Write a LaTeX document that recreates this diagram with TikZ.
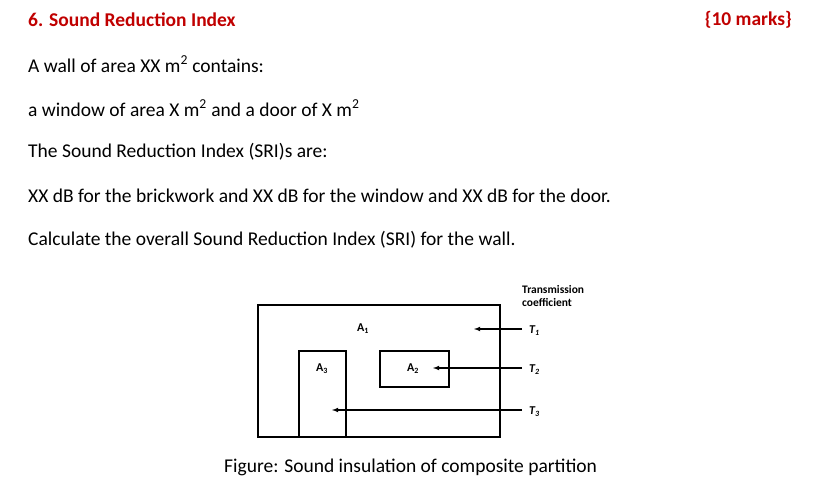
\documentclass[tikz,border=0pt]{standalone}
\usepackage{fontspec}
\setmainfont{Carlito}
\begin{document}
\begin{tikzpicture}[x=1pt,y=-1pt,
  txt/.style={anchor=west,inner sep=0pt,font=\fontsize{19.5}{21}\selectfont},
  red/.style={text={rgb,255:red,192;green,0;blue,0},font=\fontsize{19.5}{21}\selectfont\bfseries},
  lab/.style={inner sep=0pt,font=\fontsize{12}{13}\selectfont\bfseries},
  ln/.style={line width=1.3pt},
  arr/.style={line width=1.1pt,-latex}]
\useasboundingbox (0,0) rectangle (820,492);
\node[txt,red] (title) at (28,20) {6. Sound Reduction Index};
\node[txt,red,anchor=east] (marks) at (792,20) {\{10 marks\}};
\node[txt] (l1) at (28,64) {A wall of area XX m\textsuperscript{2} contains:};
\node[txt] (l2) at (28,108) {a window of area X m\textsuperscript{2} and a door of X m\textsuperscript{2}};
\node[txt] (l3) at (28,152) {The Sound Reduction Index (SRI)s are:};
\node[txt] (l4) at (28,196) {XX dB for the brickwork and XX dB for the window and XX dB for the door.};
\node[txt] (l5) at (28,240) {Calculate the overall Sound Reduction Index (SRI) for the wall.};
\node[txt] (cap) at (224,467) {Figure: Sound insulation of composite partition};
\draw[ln] (258,305) rectangle (500,437);
\draw[ln] (299,437) -- (299,351) -- (346,351) -- (346,437);
\draw[ln] (380,351) rectangle (449,387);
\node[lab] (a1) at (363,329) {A\textsubscript{1}};
\node[lab] (a2) at (413,369) {A\textsubscript{2}};
\node[lab] (a3) at (322,369) {A\textsubscript{3}};
\node[lab,anchor=west] (t1) at (529,331) {\itshape T\textsubscript{1}};
\node[lab,anchor=west] (t2) at (529,370) {\itshape T\textsubscript{2}};
\node[lab,anchor=west] (t3) at (529,412) {\itshape T\textsubscript{3}};
\coordinate (e1) at (474,329);
\coordinate (e2) at (433,368);
\coordinate (e3) at (332,410);
\draw[arr] ([xshift=-7pt]t1.west|-e1) -- (e1);
\draw[arr] ([xshift=-7pt]t2.west|-e2) -- (e2);
\draw[arr] ([xshift=-7pt]t3.west|-e3) -- (e3);
\node[lab,anchor=west,align=left,font=\fontsize{11.5}{13}\selectfont\bfseries] (tc) at (522,296) {Transmission\\coefficient};
\end{tikzpicture}
\end{document}
